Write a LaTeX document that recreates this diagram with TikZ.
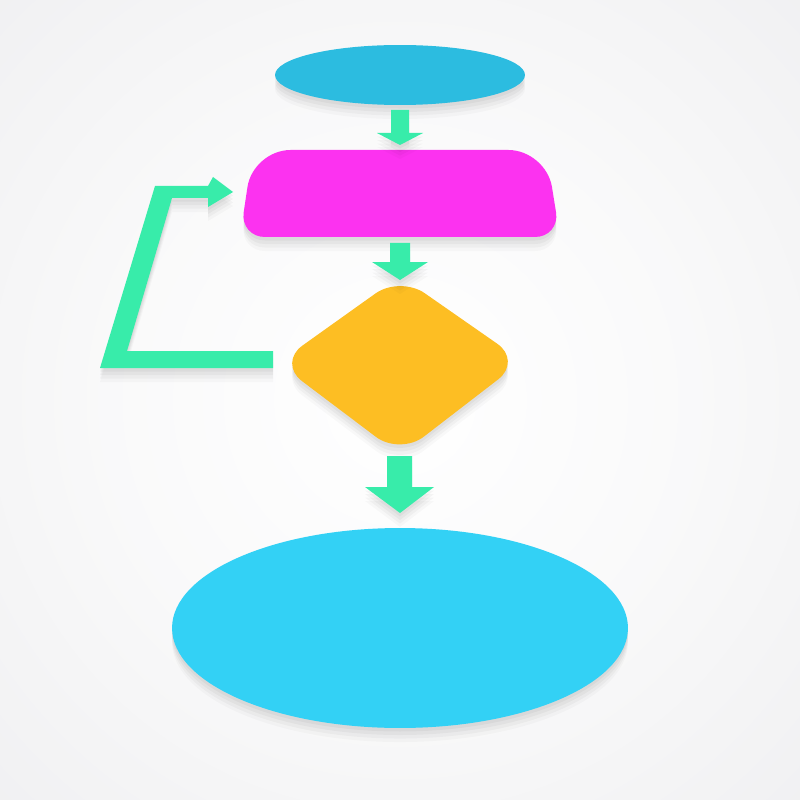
\documentclass[tikz,border=0pt]{standalone}
\usetikzlibrary{shapes.geometric}
\definecolor{bgmid}{RGB}{236,236,238}
\definecolor{bgout}{RGB}{220,221,224}
\definecolor{topblue}{RGB}{44,188,224}
\definecolor{botblue}{RGB}{51,209,245}
\definecolor{procpink}{RGB}{252,50,240}
\definecolor{decorange}{RGB}{253,190,35}
\definecolor{flowgreen}{RGB}{56,236,170}
\pgfdeclareradialshading{bgshade}{\pgfpoint{0bp}{0bp}}{color(0bp)=(white); color(18bp)=(white!70!bgmid); color(45bp)=(bgmid); color(72bp)=(bgout)}
\tikzset{
  shapeshadow/.style={
    preaction={fill=black, fill opacity=0.035, transform canvas={yshift=-2pt}},
    preaction={fill=black, fill opacity=0.035, transform canvas={yshift=-4pt}},
    preaction={fill=black, fill opacity=0.03, transform canvas={yshift=-6pt}},
    preaction={fill=black, fill opacity=0.025, transform canvas={yshift=-8pt}}},
  flowarrow/.style={fill=flowgreen, shapeshadow},
}
\begin{document}
\begin{tikzpicture}[x=0.02cm,y=-0.02cm]
\useasboundingbox (0,0) rectangle (800,800);
\shade[shading=bgshade] (0,0) rectangle (800,800);

% start ellipse
\node[ellipse, fill=topblue, minimum width=5cm, minimum height=1.2cm, inner sep=0pt, shapeshadow] (start) at (400,75) {};

% process box
\path[fill=procpink, shapeshadow] (400,150) [rounded corners=0.75cm] -- (546,150) [rounded corners=0.5cm] -- (560,237) -- (240,237) [rounded corners=0.75cm] -- (253,150) [sharp corners] -- cycle;
\coordinate (proc) at (400,193);

% decision diamond
\path[fill=decorange, rounded corners=0.6cm, shapeshadow] (400,276) -- (522,361) -- (400,455) -- (278,363) -- cycle;
\coordinate (dec) at (400,365);

% end ellipse
\node[ellipse, fill=botblue, minimum width=9.12cm, minimum height=4cm, inner sep=0pt, shapeshadow] (stop) at (400,628) {};

% arrow start -> process
\path[flowarrow] (391,110) -- (409,110) -- (409,133) -- (423,133) -- (400,145) -- (377,133) -- (391,133) -- cycle;
% arrow process -> decision
\path[flowarrow] (390,243) -- (410,243) -- (410,262) -- (428,262) -- (400,280) -- (372,262) -- (390,262) -- cycle;
% arrow decision -> end
\path[flowarrow] (387,456) -- (412,456) -- (412,487) -- (434,487) -- (400,513) -- (365,487) -- (387,487) -- cycle;
% feedback arrow decision -> process
\path[flowarrow] (273,351) -- (127,351) -- (172,198) -- (208,198) -- (208,207) -- (233,192) -- (213,177) -- (208,186) -- (155,186) -- (100,368) -- (273,368) -- cycle;
\end{tikzpicture}
\end{document}
